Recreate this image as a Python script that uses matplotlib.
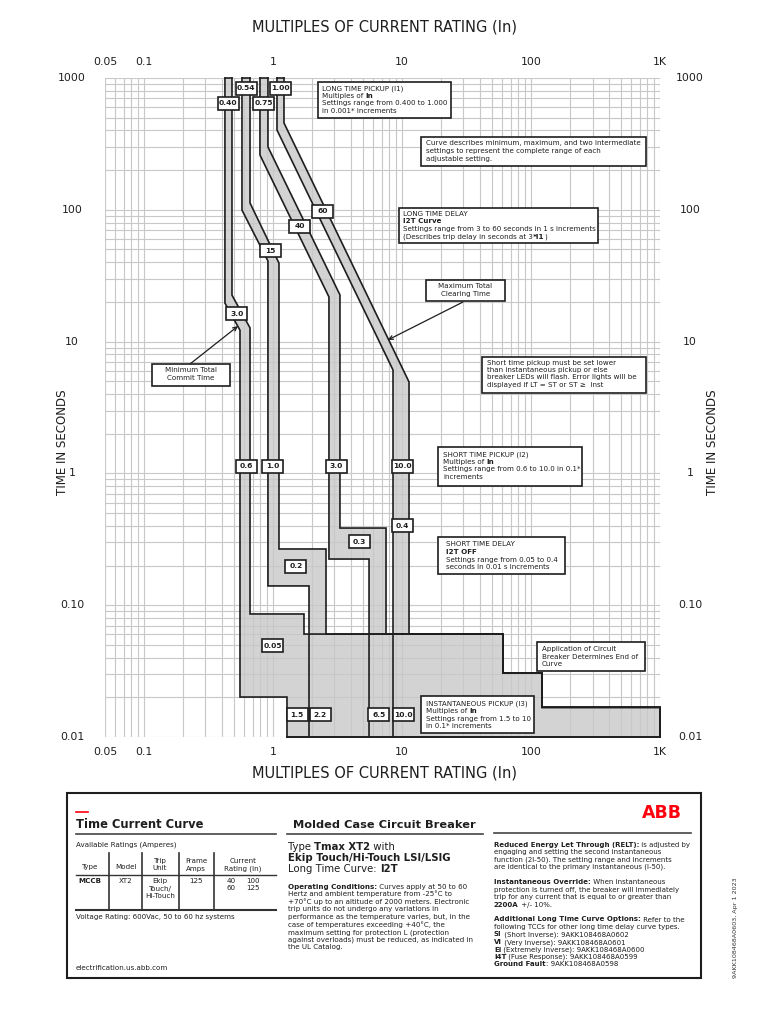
import numpy as np
import matplotlib
matplotlib.use('Agg')
import matplotlib.pyplot as plt
from matplotlib.patches import Rectangle, Polygon
from matplotlib.lines import Line2D
from matplotlib.transforms import IdentityTransform
from matplotlib.ticker import LogLocator, NullFormatter

W, H = 768, 1024
plt.rcParams['font.family'] = ['DejaVu Sans']
INK = '#1e1e1e'
GRAY = '#d3d3d3'

# ---------------- data ----------------
x_tick_vals = [0.05, 0.1, 1, 10, 100, 1000]
x_tick_labels = ['0.05', '0.1', '1', '10', '100', '1K']
y_tick_vals = [1000, 100, 10, 1, 0.1, 0.01]
y_tick_labels = ['1000', '100', '10', '1', '0.10', '0.01']

# min (commit) and max (clearing) curves: current multiples (In) / seconds
band1_min_I = [0.425, 0.425, 0.556, 0.556, 1.286, 1.286]
band1_min_t = [1000, 19.6, 12.2, 0.0201, 0.0201, 0.01]
band1_max_I = [0.482, 0.482, 0.665, 0.665, 1.742, 1.742]
band1_max_t = [1000, 22.5, 12.7, 0.0858, 0.0858, 0.0604]

band2_min_I = [0.576, 0.576, 0.916, 0.916, 1.905, 1.905]
band2_min_t = [1000, 99.5, 40.9, 0.140, 0.140, 0.01]
band2_max_I = [0.665, 0.665, 1.115, 1.115, 2.58, 2.58]
band2_max_t = [1000, 112.6, 39.4, 0.267, 0.267, 0.0604]

band3_min_I = [0.794, 0.794, 2.72, 2.72, 5.56, 5.56]
band3_min_t = [1000, 260.6, 21.8, 0.224, 0.224, 0.01]
band3_max_I = [0.916, 0.916, 3.31, 3.31, 7.53, 7.53]
band3_max_t = [1000, 299.8, 22.6, 0.385, 0.385, 0.0604]

band4_min_I = [1.076, 1.076, 8.53, 8.53]
band4_min_t = [1000, 403, 6.09, 0.01]
band4_max_I = [1.219, 1.219, 11.35, 11.35]
band4_max_t = [1000, 456, 4.94, 0.0604]

# instantaneous maximum clearing staircase (end of curve)
inst_max_I = [60.7, 60.7, 122, 122, 1000, 1000]
inst_max_t = [0.0604, 0.0306, 0.0306, 0.0168, 0.0168, 0.01]

# setting labels on the curves: (text, current, seconds)
set_labels = [('0.40', 0.449, 646), ('0.54', 0.619, 839), ('0.75', 0.853, 646), ('1.00', 1.155, 839),
              ('60', 2.445, 97.9), ('40', 1.622, 75.3), ('15', 0.950, 48.7), ('3.0', 0.527, 16.2),
              ('0.6', 0.619, 1.138), ('1.0', 1.0, 1.138), ('3.0', 3.085, 1.138), ('10.0', 10.02, 1.138),
              ('0.4', 10.02, 0.399), ('0.3', 4.65, 0.302), ('0.2', 1.51, 0.198), ('0.05', 1.0, 0.0491),
              ('1.5', 1.538, 0.0147), ('2.2', 2.32, 0.0147), ('6.5', 6.64, 0.0147), ('10.0', 10.2, 0.0147)]

bands = [((band1_min_I, band1_min_t), (band1_max_I, band1_max_t)),
         ((band2_min_I, band2_min_t), (band2_max_I, band2_max_t)),
         ((band3_min_I, band3_min_t), (band3_max_I, band3_max_t)),
         ((band4_min_I, band4_min_t), (band4_max_I, band4_max_t))]

# ---------------- figure ----------------
fig = plt.figure(figsize=(W / 100, H / 100), dpi=100)
ax = fig.add_axes([105 / W, 1 - 737 / H, 555 / W, 659 / H])
ax.set_xscale('log')
ax.set_yscale('log')
ax.set_xlim(0.05, 1000)
ax.set_ylim(0.01, 1000)
for axis in (ax.xaxis, ax.yaxis):
    axis.set_major_locator(LogLocator(base=10, numticks=30))
    axis.set_minor_locator(LogLocator(base=10, subs=np.arange(2, 10), numticks=200))
    axis.set_major_formatter(NullFormatter())
    axis.set_minor_formatter(NullFormatter())
ax.tick_params(which='both', length=0)
ax.grid(which='both', color='#c8c8c8', lw=0.8)
ax.set_axisbelow('line')
for s in ax.spines.values():
    s.set_visible(False)

# gray fills
for (mnI, mnt), (mxI, mxt) in bands:
    verts = list(zip(mnI, mnt)) + [(1000, 0.01)]
    verts += list(zip(inst_max_I, inst_max_t))[::-1]
    verts += list(zip(mxI, mxt))[::-1]
    ax.add_patch(Polygon(verts, closed=True, fc=GRAY, ec='none', zorder=1))

# curve outlines
for (mnI, mnt), (mxI, mxt) in bands:
    ax.plot(mnI, mnt, color=INK, lw=1.2, zorder=3, clip_on=False, solid_joinstyle='miter')
    ax.plot(list(mxI) + inst_max_I, list(mxt) + inst_max_t, color=INK, lw=1.2, zorder=3,
            clip_on=False, solid_joinstyle='miter')
    ax.plot([mnI[0], mxI[0]], [mnt[0], mxt[0]], color=INK, lw=1.2, zorder=3, clip_on=False)
ax.plot([band1_min_I[-1], inst_max_I[-1]], [0.01, 0.01], color=INK, lw=1.4, zorder=3, clip_on=False)

# tick labels
for v, lab in zip(x_tick_vals, x_tick_labels):
    ax.text(v, 1 + 16 / 659, lab, transform=ax.get_xaxis_transform(), ha='center', va='center',
            fontsize=7.8, color=INK)
    ax.text(v, -15 / 659, lab, transform=ax.get_xaxis_transform(), ha='center', va='center',
            fontsize=7.8, color=INK)
for v, lab in zip(y_tick_vals, y_tick_labels):
    ax.text(-33 / 555, v, lab, transform=ax.get_yaxis_transform(), ha='center', va='center',
            fontsize=7.8, color=INK)
    ax.text(1 + 30 / 555, v, lab, transform=ax.get_yaxis_transform(), ha='center', va='center',
            fontsize=7.8, color=INK)

fig.text(384 / W, 1 - 27 / H, 'MULTIPLES OF CURRENT RATING (In)', ha='center', va='center',
         fontsize=10.5, color=INK)
fig.text(384 / W, 1 - 773 / H, 'MULTIPLES OF CURRENT RATING (In)', ha='center', va='center',
         fontsize=10.5, color=INK)
fig.text(62 / W, 1 - 442 / H, 'TIME IN SECONDS', rotation=90, ha='center', va='center',
         fontsize=8.6, color=INK)
fig.text(712 / W, 1 - 442 / H, 'TIME IN SECONDS', rotation=90, ha='center', va='center',
         fontsize=8.6, color=INK)

# setting label boxes
IDT = IdentityTransform()
for s, xi, ti in set_labels:
    cx, cy = ax.transData.transform((xi, ti))
    fig.add_artist(Rectangle((cx - 10.5, cy - 6.5), 21, 13, transform=IDT, fc='white', ec=INK,
                             lw=1.2, zorder=12))
    fig.text(cx, cy, s, transform=IDT, ha='center', va='center', fontsize=5.4,
             fontweight='bold', color=INK, zorder=13)

# ---------- rich text helpers ----------
renderer = fig.canvas.get_renderer()


def text_w(s, size, bold):
    t = fig.text(0, 0, s + 'x', fontsize=size, fontweight='bold' if bold else 'normal')
    w1 = t.get_window_extent(renderer).width
    t.set_text('x')
    w2 = t.get_window_extent(renderer).width
    t.remove()
    return w1 - w2


def parse(s):
    parts = s.split('**')
    return [(p, i % 2 == 1) for i, p in enumerate(parts) if p]


def rich(xp, yp, s, size, color=INK, ha='left', z=20):
    runs = parse(s)
    widths = [text_w(r, size, b) for r, b in runs]
    x0 = xp - sum(widths) / 2 if ha == 'center' else xp
    for (r, b), w in zip(runs, widths):
        fig.text(x0 / W, 1 - yp / H, r, fontsize=size, fontweight='bold' if b else 'normal',
                 va='baseline', ha='left', color=color, zorder=z)
        x0 += w


def pbox(x0, y0, x1, y1, lw=1.2):
    fig.add_artist(Rectangle((x0 / W, 1 - y1 / H), (x1 - x0) / W, (y1 - y0) / H,
                             transform=fig.transFigure, fc='white', ec=INK, lw=lw, zorder=15))


def hline(x0, x1, y, lw=1.0, color='#444444'):
    fig.add_artist(Line2D([x0 / W, x1 / W], [1 - y / H, 1 - y / H], transform=fig.transFigure,
                          color=color, lw=lw, zorder=16))


def vline(x, y0, y1, lw=1.0, color='#333333'):
    fig.add_artist(Line2D([x / W, x / W], [1 - y0 / H, 1 - y1 / H], transform=fig.transFigure,
                          color=color, lw=lw, zorder=16))


# ---------- note boxes on the chart ----------
notes = [
    ((318, 82, 451, 118), 322, 90.5, 7.5, 'left',
     ['LONG TIME PICKUP (I1)', 'Multiples of **In**', 'Settings range from 0.400 to 1.000',
      'in 0.001* increments']),
    ((421, 137, 646, 166), 426, 145.5, 7.5, 'left',
     ['Curve describes minimum, maximum, and two intermediate',
      'settings to represent the complete range of each', 'adjustable setting.']),
    ((399, 208, 598, 243), 403, 215.5, 7.8, 'left',
     ['LONG TIME DELAY', '**I2T Curve**', 'Settings range from 3 to 60 seconds in 1 s increments',
      '(Describes trip delay in seconds at 3***I1**)']),
    ((426, 280, 505, 301), 465.5, 288.5, 7.5, 'center', ['Maximum Total', 'Clearing Time']),
    ((152, 364, 230, 386), 191, 372.5, 8.0, 'center', ['Minimum Total', 'Commit Time']),
    ((482, 357, 646, 393), 487, 364.5, 7.5, 'left',
     ['Short time pickup must be set lower', 'than instantaneous pickup or else',
      'breaker LEDs will flash. Error lights will be', 'displayed if LT = ST or ST \u2265  Inst']),
    ((438, 447, 582, 486), 443, 456.5, 7.5, 'left',
     ['SHORT TIME PICKUP (I2)', 'Multiples of **In**', 'Settings range from 0.6 to 10.0 in 0.1*',
      'increments']),
    ((438, 537, 565, 574), 446, 546.5, 7.6, 'left',
     ['SHORT TIME DELAY', '**I2T OFF**', 'Settings range from 0.05 to 0.4',
      'seconds in 0.01 s increments']),
    ((537, 642, 645, 671), 542, 651.5, 7.5, 'left',
     ['Application of Circuit', 'Breaker Determines End of', 'Curve']),
    ((421, 696, 534, 733), 426, 705.5, 7.6, 'left',
     ['INSTANTANEOUS PICKUP (I3)', 'Multiples of **In**', 'Settings range from 1.5 to 10',
      'in 0.1* increments']),
]
for (x0, y0, x1, y1), tx, b0, pitch, ha, lines in notes:
    pbox(x0, y0, x1, y1)
    for i, ln in enumerate(lines):
        rich(tx, b0 + i * pitch, ln, 5.1, ha=ha)

# arrows
arrow_kw = dict(arrowstyle='->', color=INK, lw=0.9, shrinkA=0, shrinkB=0, mutation_scale=7)
ax.annotate('', xy=(7.8, 10.3), xytext=(463, H - 302), textcoords='figure pixels',
            arrowprops=arrow_kw, annotation_clip=False, zorder=6)
ax.annotate('', xy=(0.536, 13.1), xytext=(190, H - 364), textcoords='figure pixels',
            arrowprops=arrow_kw, annotation_clip=False, zorder=6)

# ---------- bottom information panel ----------
FS = 5.15
pbox(67, 793, 701, 978, lw=1.5)
hline(76, 88, 812, lw=1.2, color='#ff000f')
rich(76, 828.5, '**Time Current Curve**', 8.3)
hline(76, 276, 834, lw=1.2)
rich(76, 846.5, 'Available Ratings (Amperes)', FS)

col_x = [90, 126, 160, 196, 243]
headers = [['Type'], ['Model'], ['Trip', 'Unit'], ['Frame', 'Amps'], ['Current', 'Rating (In)']]
for cx, hd in zip(col_x, headers):
    if len(hd) == 1:
        rich(cx, 869, hd[0], FS, ha='center')
    else:
        rich(cx, 863, hd[0], FS, ha='center')
        rich(cx, 870.5, hd[1], FS, ha='center')
for sx in [109, 142, 179, 214]:
    vline(sx, 853, 910, lw=1.2)
hline(76, 276, 875, lw=1.0, color='#333333')
hline(76, 276, 910, lw=1.5, color='#333333')
rich(90, 883, '**MCCB**', FS, ha='center')
rich(126, 883, 'XT2', FS, ha='center')
for i, t in enumerate(['Ekip', 'Touch/', 'Hi-Touch']):
    rich(160, 883 + i * 7.5, t, FS, ha='center')
rich(196, 883, '125', FS, ha='center')
for i, (a, b) in enumerate([('40', '100'), ('60', '125')]):
    rich(231, 883 + i * 7.0, a, FS, ha='center')
    rich(253, 883 + i * 7.0, b, FS, ha='center')
rich(76, 919.5, 'Voltage Rating: 600Vac, 50 to 60 hz systems', FS)
rich(76, 970.5, 'electrification.us.abb.com', FS)

rich(293, 828.5, '**Molded Case Circuit Breaker**', 8.2)
hline(287, 483, 834, lw=1.2)
rich(288, 849.5, 'Type **Tmax XT2** with', 7.3)
rich(288, 861, '**Ekip Touch/Hi-Touch LSI/LSIG**', 7.3)
rich(288, 872.5, 'Long Time Curve: **I2T**', 7.3)
op_lines = ['**Operating Conditions:** Curves apply at 50 to 60',
            'Hertz and ambient temperature from -25\u00b0C to',
            '+70\u00b0C up to an altitude of 2000 meters. Electronic',
            'trip units do not undergo any variations in',
            'performance as the temperature varies, but, in the',
            'case of temperatures exceeding +40\u00b0C, the',
            'maximum setting for protection L (protection',
            'against overloads) must be reduced, as indicated in',
            'the UL Catalog.']
for i, ln in enumerate(op_lines):
    rich(288, 888.5 + i * 7.6, ln, FS)

fig.text(662 / W, 1 - 813 / H, 'ABB', ha='center', va='center', fontsize=12.5,
         fontweight='heavy', color='#ff000f', zorder=20)
hline(494, 691, 833, lw=1.2)
right_lines = [
    (846.5, '**Reduced Energy Let Through (RELT):** is adjusted by'),
    (854, 'engaging and setting the second instantaneous'),
    (861.5, 'function (2I-50). The setting range and increments'),
    (869, 'are identical to the primary instantaneous (I-50).'),
    (884.5, '**Instantaneous Override:** When instantaneous'),
    (892, 'protection is turned off, the breaker will immediately'),
    (899.5, 'trip for any current that is equal to or greater than'),
    (907, '**2200A** +/- 10%.'),
    (921.5, '**Additional Long Time Curve Options:** Refer to the'),
    (929, 'following TCCs for other long time delay curve types.'),
    (936.5, '**SI** (Short Inverse): 9AKK108468A0602'),
    (944, '**VI** (Very Inverse): 9AKK108468A0601'),
    (951.5, '**EI** (Extremely Inverse): 9AKK108468A0600'),
    (959, '**I4T** (Fuse Response): 9AKK108468A0599'),
    (966.5, '**Ground Fault**: 9AKK108468A0598'),
]
for yb, ln in right_lines:
    rich(494, yb, ln, 5.0)

fig.text(735 / W, 1 - 928 / H, '9AKK108468A0603, Apr 1 2023', rotation=90, ha='center',
         va='center', fontsize=4.6, color='#333333')

fig.savefig('out.png', dpi=100, facecolor='white')
